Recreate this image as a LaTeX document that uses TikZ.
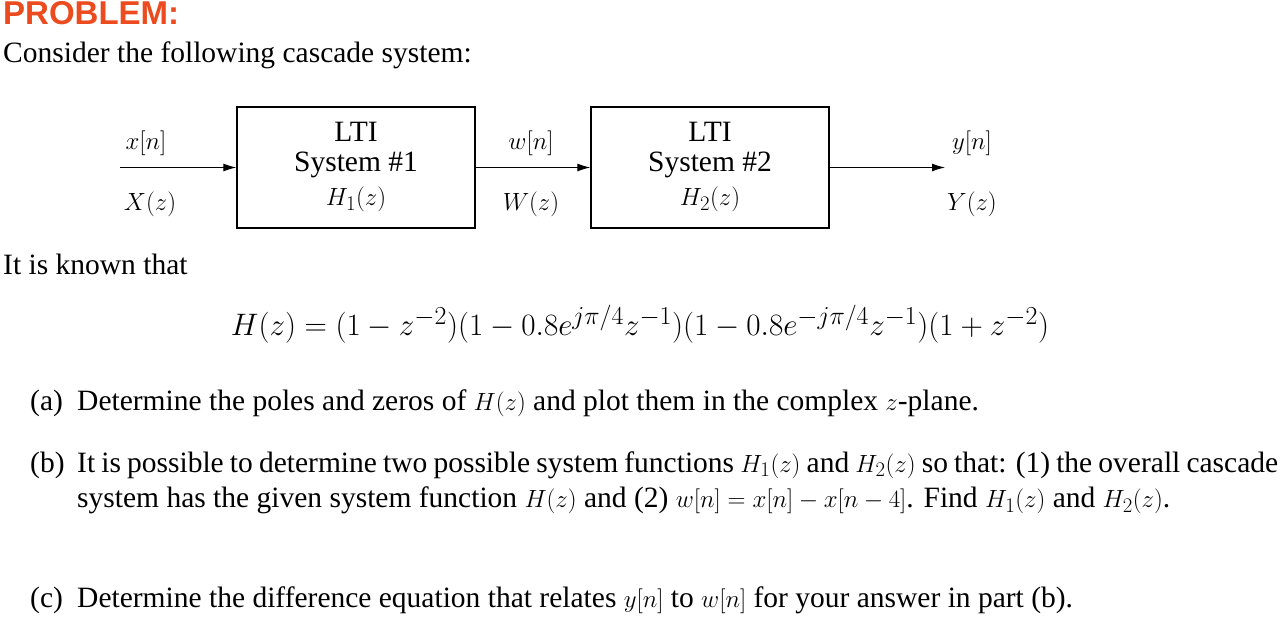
\documentclass[tikz,border=0pt]{standalone}
\usepackage{fontspec}
\setmainfont{Liberation Serif}
\setsansfont{Liberation Sans}
\usetikzlibrary{arrows.meta}
\begin{document}
\begin{tikzpicture}[x=1pt,y=-1pt,
  txt/.style={anchor=base west,inner sep=0pt,font=\fontsize{29.5}{35}\selectfont},
  ctr/.style={anchor=base,inner sep=0pt,font=\fontsize{29.5}{35}\selectfont},
  blk/.style={draw,line width=1.3pt,minimum width=238pt,minimum height=121pt,inner sep=0pt},
  sig/.style={line width=1.1pt,-{Latex[length=13pt,width=8pt]}}]
\useasboundingbox (0,0) rectangle (1280,617);
\node[anchor=base west,inner sep=0pt,font=\sffamily\bfseries\fontsize{33}{38}\selectfont,text={rgb,255:red,235;green,75;blue,30}] (pb) at (3,25) {PROBLEM:};
\node[txt] (c1) at (3,63) {Consider the following cascade system:};
\node[blk] (b1) at (356,167.5) {};
\node[blk] (b2) at (710,167.5) {};
\coordinate (in) at (120,167.5);
\coordinate (out) at (945,167.5);
\draw[sig] (in) -- (b1.west);
\draw[sig] (b1.east) -- (b2.west);
\draw[sig] (b2.east) -- (out);
\node[ctr] (l1a) at (356,142) {LTI};
\node[ctr] (l1b) at (356,172) {System \#1};
\node[ctr] (l1c) at (356,206) {$H_1(z)$};
\node[ctr] (l2a) at (710,142) {LTI};
\node[ctr] (l2b) at (710,172) {System \#2};
\node[ctr] (l2c) at (710,206) {$H_2(z)$};
\node[ctr] (xn) at (146,150) {$x[n]$};
\node[ctr] (xz) at (150,211) {$X(z)$};
\node[ctr] (wn) at (531,150) {$w[n]$};
\node[ctr] (wz) at (531,211) {$W(z)$};
\node[ctr] (yn) at (972,150) {$y[n]$};
\node[ctr] (yz) at (972,211) {$Y(z)$};
\node[txt] (known) at (3,275) {It is known that};
\node[ctr] (eq) at (640,336) {\resizebox{818pt}{!}{$H(z)=(1-z^{-2})(1-0.8e^{j\pi/4}z^{-1})(1-0.8e^{-j\pi/4}z^{-1})(1+z^{-2})$}};
\node[txt] (alab) at (30,410) {(a)};
\node[txt] (a) at (77,410) {Determine the poles and zeros of $H(z)$ and plot them in the complex $z$-plane.};
\node[txt] (blab) at (30,472) {(b)};
\node[anchor=base west,inner sep=0pt,text width=1201pt,align=justify,font=\fontsize{29.5}{35.5}\selectfont] (b) at (77,472) {It is possible to determine two possible system functions $H_1(z)$ and $H_2(z)$ so that: (1) the overall cascade system has the given system function $H(z)$ and (2) $w[n]=x[n]-x[n-4]$. Find $H_1(z)$ and $H_2(z)$.};
\node[txt] (clab) at (30,607) {(c)};
\node[txt] (cc) at (77,607) {Determine the difference equation that relates $y[n]$ to $w[n]$ for your answer in part (b).};
\end{tikzpicture}
\end{document}
